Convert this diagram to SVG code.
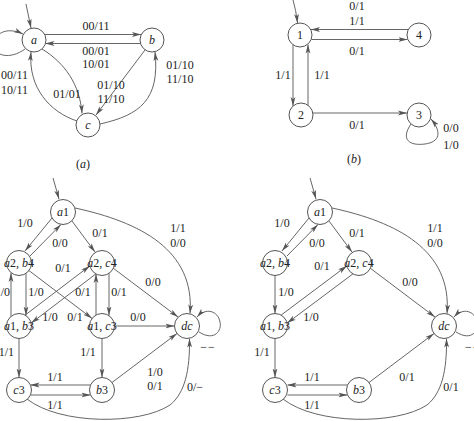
<svg xmlns="http://www.w3.org/2000/svg" width="474" height="421" viewBox="0 0 474 421">
<defs>
<marker id="ah" markerWidth="9" markerHeight="6" refX="9" refY="3" orient="auto" markerUnits="userSpaceOnUse"><path d="M0,0.6 L9,3 L0,5.4 L2.2,3 z" fill="#555"/></marker>
<style>
.n circle{fill:#fff;stroke:#555;stroke-width:1}
.e path{fill:none;stroke:#666;stroke-width:1}
.e path.a{marker-end:url(#ah)}
text{font-family:"Liberation Serif","DejaVu Serif",serif;font-size:12px;fill:#222;text-anchor:middle}
.i{font-style:italic}
.n text{font-size:12px}
</style>
</defs>
<rect width="474" height="421" fill="#fff"/>

<!-- connectors -->
<g class="e">
<!-- panel a -->
<path class="a" d="M26,4 L31,28"/>
<path class="a" d="M25,49 C10,60 -6,56 -6,45 C-6,34 6,26 23,34"/>
<path class="a" d="M45,34.5 L141,34.5"/>
<path class="a" d="M140.5,43.5 L45.5,43.5"/>
<path class="a" d="M42,49 C65,63 80,85 82,113.5"/>
<path class="a" d="M77,121 C50,112 28,88 31,52"/>
<path class="a" d="M145,50 L96,115"/>
<path class="a" d="M100,124 C140,115 160,100 155,52"/>
<!-- panel b -->
<path class="a" d="M293,0 Q296,10 297.5,23"/>
<path class="a" d="M408,29.5 L311,29.5"/>
<path class="a" d="M311.5,39.5 L407.5,39.5"/>
<path class="a" d="M293,45 L293,106"/>
<path class="a" d="M308,106 L308,44.5"/>
<path class="a" d="M313,113 L407,113"/>
<path class="a" d="M411,124 C400,140 410,146 425,144 C440,142 442,132 431,119"/>
<!-- panel c -->
<path class="a" d="M53,178 L59,199"/>
<path class="a" d="M52,218 L25,251"/>
<path class="a" d="M30,256 L61,224.5"/>
<path class="a" d="M72,221 L95,252"/>
<path class="a" d="M75,208 C140,222 195,250 190,313.5"/>
<path class="a" d="M113,268 L178,317"/>
<path class="a" d="M114.5,326 L174.5,326"/>
<path class="a" d="M199,332 C215,342 222,330 220,322 C218,311 206,307 197,317"/>
<path class="a" d="M11,316.5 L11,273"/>
<path class="a" d="M26,273.5 L26,315.5"/>
<path class="a" d="M96,315 L96,274"/>
<path class="a" d="M109,273.5 L109,315.5"/>
<path class="a" d="M25.1,315.1 L89.8,265.9"/>
<path class="a" d="M95.9,273.9 L31.2,323.1"/>
<path class="a" d="M29,270.6 L92,318.4"/>
<path class="a" d="M19,338.5 L19,377.5"/>
<path class="a" d="M102,338.5 L102,377.5"/>
<path class="a" d="M90.5,385 L30.5,385"/>
<path class="a" d="M30.5,395 L90.5,395"/>
<path class="a" d="M112,382.5 L177,333.5"/>
<path class="a" d="M27,399 C60,425 140,425 170,405 C185,393 190,370 189.5,338.5"/>
<!-- panel d -->
<path class="a" d="M310,178 L316,199"/>
<path class="a" d="M309,218 L282,251"/>
<path class="a" d="M287,256 L318,224.5"/>
<path class="a" d="M329,221 L352,252"/>
<path class="a" d="M332,208 C397,222 452,250 447,313.5"/>
<path class="a" d="M370,268 L435,317"/>
<path class="a" d="M456,332 C472,342 479,330 477,322 C475,311 463,307 454,317"/>
<path class="a" d="M275,275.5 L275,313.5"/>
<path class="a" d="M281.1,315.1 L346.8,265.9"/>
<path class="a" d="M352.9,273.9 L287.2,323.1"/>
<path class="a" d="M275,338.5 L275,377.5"/>
<path class="a" d="M347.5,385 L287.5,385"/>
<path class="a" d="M287.5,395 L347.5,395"/>
<path class="a" d="M369,382.5 L434,333.5"/>
<path class="a" d="M283,399 C316,425 397,425 427,405 C442,393 447,370 446.5,338.5"/>
</g>

<!-- edge labels -->
<g id="labels">
<text x="96" y="30">00/11</text>
<text x="96" y="55">00/01</text>
<text x="96" y="68">10/01</text>
<text x="67" y="98">01/01</text>
<text x="111" y="89">01/10</text>
<text x="111" y="103">11/10</text>
<text x="180" y="69">01/10</text>
<text x="180" y="83">11/10</text>
<text x="28" y="79" style="text-anchor:end">00/11</text>
<text x="28" y="94" style="text-anchor:end">10/11</text>
<text x="83" y="168">(<tspan class="i">a</tspan>)</text>

<text x="357" y="10">0/1</text>
<text x="357" y="25">1/1</text>
<text x="357" y="55">0/1</text>
<text x="283" y="79">1/1</text>
<text x="322" y="79">1/1</text>
<text x="357" y="129">0/1</text>
<text x="451" y="132">0/0</text>
<text x="451" y="149">1/0</text>
<text x="354" y="163">(<tspan class="i">b</tspan>)</text>

<text x="25" y="227">1/0</text>
<text x="60" y="247">0/0</text>
<text x="100" y="237">0/1</text>
<text x="178" y="232">1/1</text>
<text x="178" y="247">0/0</text>
<text x="153" y="286">0/0</text>
<text x="63" y="272">0/1</text>
<text x="83" y="296">0/1</text>
<text x="119" y="296">0/1</text>
<text x="36" y="296">1/0</text>
<text x="10" y="296" style="text-anchor:end">1/0</text>
<text x="50" y="321">1/0</text>
<text x="75" y="321">0/1</text>
<text x="138" y="321">0/0</text>
<text x="208" y="351" style="letter-spacing:1px">−−</text>
<text x="14" y="356" style="text-anchor:end">1/1</text>
<text x="88" y="356">1/1</text>
<text x="55" y="381">1/1</text>
<text x="55" y="409">1/1</text>
<text x="155" y="376">1/0</text>
<text x="155" y="390">0/1</text>
<text x="195" y="391">0/−</text>

<text x="282" y="227">1/0</text>
<text x="317" y="247">0/0</text>
<text x="357" y="237">0/1</text>
<text x="435" y="232">1/1</text>
<text x="435" y="247">0/0</text>
<text x="410" y="286">0/0</text>
<text x="322" y="270">0/1</text>
<text x="286" y="296">1/0</text>
<text x="311" y="321">1/0</text>
<text x="465" y="351" style="letter-spacing:1px;text-anchor:start">−−</text>
<text x="262" y="356">1/1</text>
<text x="312" y="381">1/1</text>
<text x="312" y="409">1/1</text>
<text x="407" y="381">0/1</text>
<text x="451" y="391">0/1</text>
</g>

<!-- nodes panel a -->
<g id="a_a" class="n"><circle cx="34" cy="40" r="12"/><text x="34" y="44" class="i">a</text></g>
<g id="a_b" class="n"><circle cx="152" cy="40" r="12"/><text x="152" y="44" class="i">b</text></g>
<g id="a_c" class="n"><circle cx="88" cy="125" r="12"/><text x="88" y="129" class="i">c</text></g>
<!-- nodes panel b -->
<g id="b_1" class="n"><circle cx="300" cy="35" r="12"/><text x="300" y="39">1</text></g>
<g id="b_4" class="n"><circle cx="419" cy="35" r="12"/><text x="419" y="39">4</text></g>
<g id="b_2" class="n"><circle cx="301" cy="115" r="12"/><text x="301" y="119">2</text></g>
<g id="b_3" class="n"><circle cx="419" cy="115" r="12"/><text x="419" y="119">3</text></g>
<!-- nodes panel c -->
<g id="c_a1" class="n"><circle cx="63" cy="212" r="12.5"/><text x="63" y="216"><tspan class="i">a</tspan>1</text></g>
<g id="c_a2b4" class="n"><circle cx="19" cy="263" r="12.5"/><text x="19" y="267"><tspan class="i">a</tspan>2, <tspan class="i">b</tspan>4</text></g>
<g id="c_a2c4" class="n"><circle cx="102" cy="263" r="12.5"/><text x="102" y="267"><tspan class="i">a</tspan>2, <tspan class="i">c</tspan>4</text></g>
<g id="c_a1b3" class="n"><circle cx="19" cy="326" r="12.5"/><text x="19" y="330"><tspan class="i">a</tspan>1, <tspan class="i">b</tspan>3</text></g>
<g id="c_a1c3" class="n"><circle cx="102" cy="326" r="12.5"/><text x="102" y="330"><tspan class="i">a</tspan>1, <tspan class="i">c</tspan>3</text></g>
<g id="c_dc" class="n"><circle cx="187" cy="326" r="12.5"/><text x="187" y="330" class="i">dc</text></g>
<g id="c_c3" class="n"><circle cx="19" cy="390" r="12.5"/><text x="19" y="394"><tspan class="i">c</tspan>3</text></g>
<g id="c_b3" class="n"><circle cx="102" cy="390" r="12.5"/><text x="102" y="394"><tspan class="i">b</tspan>3</text></g>
<!-- nodes panel d -->
<g id="d_a1" class="n"><circle cx="320" cy="212" r="12.5"/><text x="320" y="216"><tspan class="i">a</tspan>1</text></g>
<g id="d_a2b4" class="n"><circle cx="275" cy="263" r="12.5"/><text x="275" y="267"><tspan class="i">a</tspan>2, <tspan class="i">b</tspan>4</text></g>
<g id="d_a2c4" class="n"><circle cx="359" cy="263" r="12.5"/><text x="359" y="267"><tspan class="i">a</tspan>2, <tspan class="i">c</tspan>4</text></g>
<g id="d_a1b3" class="n"><circle cx="275" cy="326" r="12.5"/><text x="275" y="330"><tspan class="i">a</tspan>1, <tspan class="i">b</tspan>3</text></g>
<g id="d_dc" class="n"><circle cx="444" cy="326" r="12.5"/><text x="444" y="330" class="i">dc</text></g>
<g id="d_c3" class="n"><circle cx="275" cy="390" r="12.5"/><text x="275" y="394"><tspan class="i">c</tspan>3</text></g>
<g id="d_b3" class="n"><circle cx="359" cy="390" r="12.5"/><text x="359" y="394"><tspan class="i">b</tspan>3</text></g>
</svg>
